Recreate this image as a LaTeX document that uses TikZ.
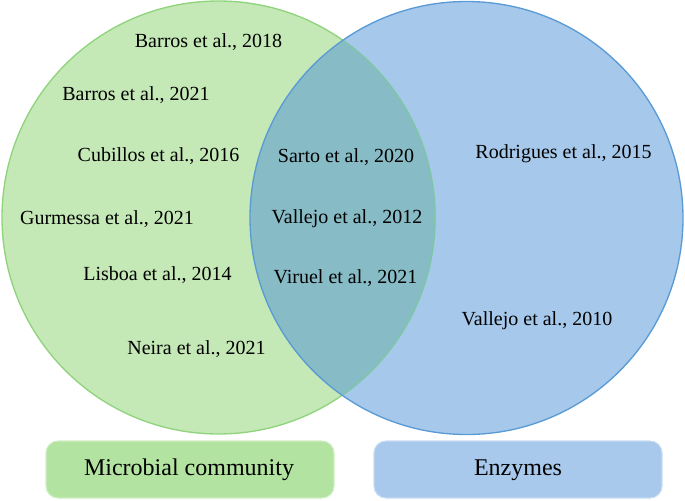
\documentclass[tikz,border=0pt]{standalone}
\usepackage{fontspec}
\setmainfont{Liberation Serif}
\begin{document}
\begin{tikzpicture}[x=0.75pt,y=-0.75pt,
  ref/.style={font=\fontsize{15}{18}\selectfont, inner sep=0pt, anchor=center},
  lab/.style={font=\fontsize{18}{21}\selectfont, inner sep=0pt, anchor=center},
  labbox/.style={rounded corners=9pt, line width=0.8pt}]
\definecolor{gfill}{HTML}{C5E8B7}
\definecolor{gline}{HTML}{8FD47C}
\definecolor{bfill}{HTML}{A6C8EA}
\definecolor{bline}{HTML}{5B9BD5}
\definecolor{ofill}{HTML}{87BBC6}
\definecolor{oline}{HTML}{7CC3B2}
\definecolor{gbox}{HTML}{B3E3A0}
\definecolor{gboxl}{HTML}{CFEFC3}
\definecolor{bbox}{HTML}{A8C9EB}
\definecolor{bboxl}{HTML}{C6DCF3}
\useasboundingbox (0,0) rectangle (685,500);
% circles
\coordinate (gc) at (218.5,217.5);
\coordinate (bc) at (466.5,218);
\fill[gfill] (gc) circle[radius=216.5*0.75pt];
\fill[bfill] (bc) circle[radius=216.5*0.75pt];
\begin{scope}
  \clip (gc) circle[radius=216.5*0.75pt];
  \fill[ofill] (bc) circle[radius=216.5*0.75pt];
\end{scope}
\draw[gline, line width=1pt] (gc) circle[radius=216.5*0.75pt];
\begin{scope}
  \clip (bc) circle[radius=216.5*0.75pt];
  \draw[oline, line width=1pt] (gc) circle[radius=216.5*0.75pt];
\end{scope}
\draw[bline, line width=1pt] (bc) circle[radius=216.5*0.75pt];
% references
\node[ref] (b18) at (208.5,42) {Barros et al., 2018};
\node[ref] (b21) at (136,95) {Barros et al., 2021};
\node[ref] (cub) at (158.5,156) {Cubillos et al., 2016};
\node[ref] (gur) at (107,219) {Gurmessa et al., 2021};
\node[ref] (lis) at (157.5,275) {Lisboa et al., 2014};
\node[ref] (nei) at (196.5,349) {Neira et al., 2021};
\node[ref] (sar) at (346,157) {Sarto et al., 2020};
\node[ref] (v12) at (347,219) {Vallejo et al., 2012};
\node[ref] (vir) at (345.5,278) {Viruel et al., 2021};
\node[ref] (rod) at (563.5,154) {Rodrigues et al., 2015};
\node[ref] (v10) at (537,321) {Vallejo et al., 2010};
% label boxes
\draw[labbox, fill=gbox, draw=gboxl] (46,441) rectangle (334,498);
\draw[labbox, fill=bbox, draw=bboxl] (374,441) rectangle (662,498);
\node[lab] (mic) at (189,470) {Microbial community};
\node[lab] (enz) at (518,470) {Enzymes};
\end{tikzpicture}
\end{document}
